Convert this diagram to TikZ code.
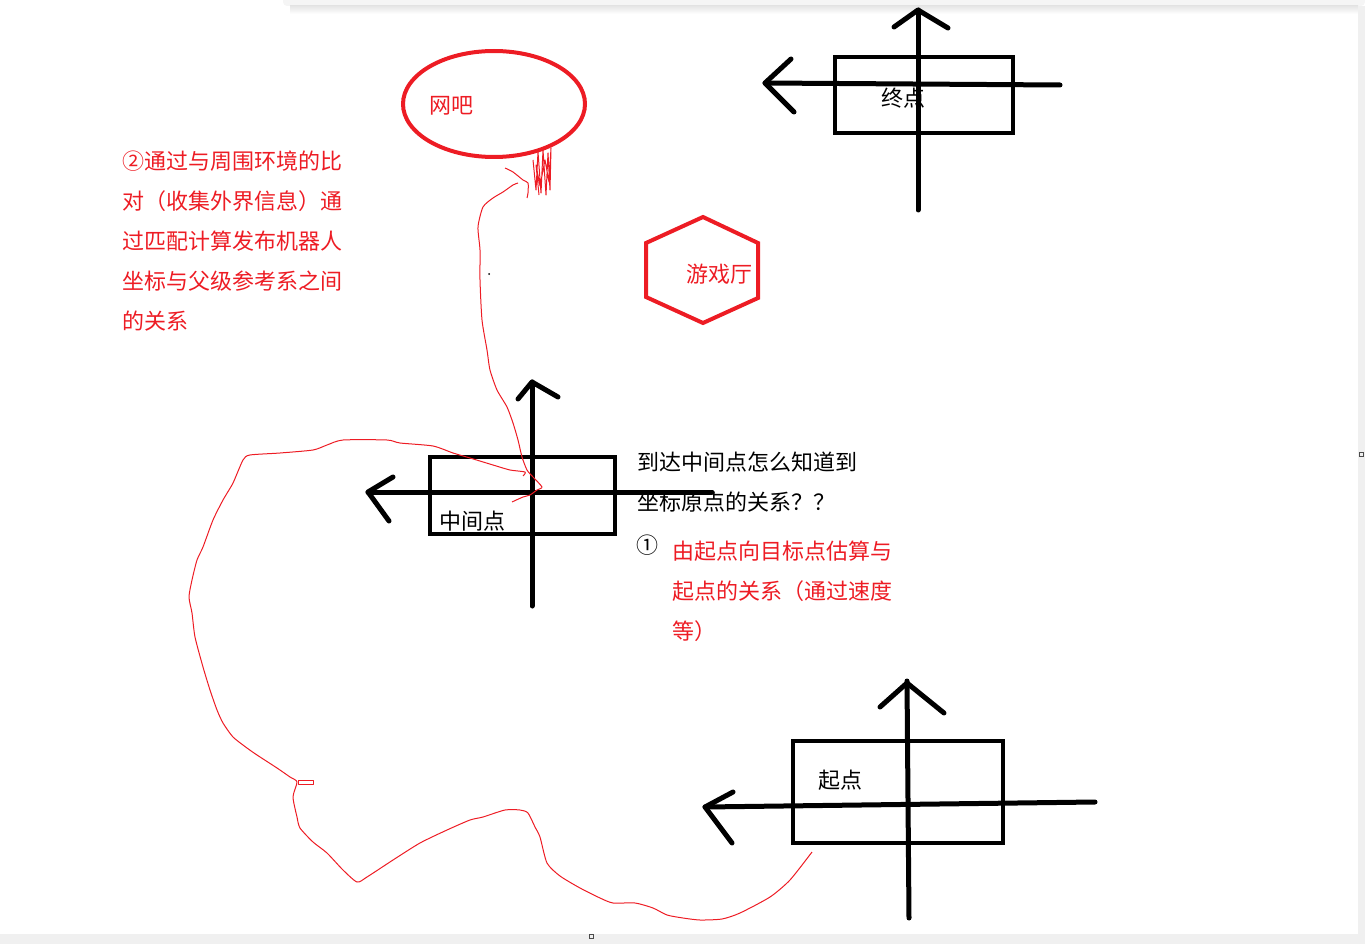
\documentclass[tikz,border=0pt]{standalone}
\usepackage{fontspec}
\newfontfamily\cn{Noto Sans CJK SC}
\usetikzlibrary{positioning,shapes.geometric}
\definecolor{pen}{RGB}{237,28,36}
\tikzstyle{frame}=[draw,line width=4pt,inner sep=0pt]
\tikzstyle{axis}=[draw,line width=5pt,line cap=round,line join=round]
\tikzstyle{ink}=[draw=pen,line width=1pt,line join=round]
\tikzstyle{txt}=[font=\cn\fontsize{22}{40}\selectfont,inner sep=0pt]
\tikzstyle{rtxt}=[txt,text=pen]

\begin{document}
\begin{tikzpicture}[x=1pt,y=-1pt]
    \useasboundingbox (0,0) rectangle (1365,944);
    % window edges
    \fill[black!4,rounded corners=4pt] (283,-6) rectangle (1365,6);
    \shade[top color=black!10,bottom color=white] (290,6) rectangle (1358,14);
    \fill[black!6] (1358,6) rectangle (1365,944);
    \fill[black!6] (0,934) rectangle (1365,944);
    \draw[black!70,line width=1pt] (1359,452) rectangle (1363,456);
    \draw[black!70,line width=1pt] (589,934) rectangle (593,938);

    % frames
    \node[frame,minimum width=178pt,minimum height=76pt] (goal) at (924,95) {};
    \node[frame,minimum width=185pt,minimum height=77pt] (mid) at (522,495) {};
    \node[frame,minimum width=210pt,minimum height=102pt] (start) at (898,792) {};
    \node[txt] (goaltxt) at (903,98) {终点};
    \node[txt] (midtxt) at (472,521) {中间点};
    \node[txt] (starttxt) at (840,780) {起点};

    % axes of goal
    \draw[axis] (918,210) -- (918,10);
    \draw[axis] (894,27) -- (918,10) -- (948,28);
    \draw[axis] (1060,85) -- (765,83);
    \draw[axis] (791,59) -- (765,83) -- (794,112);
    % axes of mid
    \draw[axis] (532,606) -- (532,382);
    \draw[axis] (518,399) -- (532,382) -- (558,397);
    \draw[axis] (712,492) -- (368,492);
    \draw[axis] (393,477) -- (368,492) -- (389,521);
    % axes of start
    \draw[axis] (909,918) -- (907,681);
    \draw[axis] (880,707) -- (907,683) -- (944,713);
    \draw[axis] (1095,802) -- (705,807);
    \draw[axis] (733,792) -- (705,807) -- (732,843);

    % places
    \node[ellipse,draw=pen,line width=4pt,minimum width=182pt,minimum height=106pt] (bar) at (494,104) {};
    \node[rtxt] (bartxt) at (451,106) {网吧};
    \draw[pen,line width=4pt] (703,217) coordinate (hall) -- (758,243) -- (758,298) -- (703,323) -- (646,297) -- (646,243) -- cycle;
    \node[rtxt] (halltxt) at (719,274) {游戏厅};

    % notes
    \node[rtxt,align=left,anchor=north west] (note2) at (122,151)
        {②通过与周围环境的比\\对（收集外界信息）通\\过匹配计算发布机器人\\坐标与父级参考系之间\\的关系};
    \node[txt,align=left,anchor=north west] (ask) at (637,452)
        {到达中间点怎么知道到\\坐标原点的关系？？};
    \node[txt] (one) at (647,545) {①};
    \node[rtxt,align=left,anchor=north west] (note1) at (672,541)
        {由起点向目标点估算与\\起点的关系（通过速度\\等）};

    % route
    \coordinate (tail) at (812,852);
    \coordinate (hook) at (523,476);
    \coordinate (top) at (518,183);
    \draw[ink] plot[smooth,tension=0.4] coordinates {(tail) (790,880) (770,897) (740,913)
        (722,919) (700,920) (683,918) (667,915) (653,908) (635,903) (613,903) (600,898)
        (580,888) (560,876) (547,863) (540,837) (535,827) (528,813) (520,810) (505,810)
        (483,817) (470,820) (447,830) (420,843) (393,860) (367,877) (357,882) (343,870)
        (327,853) (313,842) (300,828) (297,817) (293,797) (297,782) (290,777) (277,768)
        (257,755) (247,748) (233,737) (223,723) (217,710) (210,690) (203,667) (195,637)
        (192,613) (189,597) (192,580) (197,560) (203,547) (213,520) (223,500) (233,483)
        (243,460) (250,455) (280,453) (313,450) (327,445) (343,440) (387,440) (400,443)
        (433,446) (453,453) (470,458) (493,465) (510,470) (525,472) (hook)};
    \draw[ink] (298,780) rectangle (313,784);
    \draw[ink] plot[smooth,tension=0.4] coordinates {(512,502) (523,497) (530,495) (537,490)
        (542,487) (533,477) (527,470) (522,457) (518,440) (513,423) (507,407) (497,390)
        (490,370) (487,350) (482,320) (480,280) (480,250) (478,227) (483,207) (493,198)
        (503,192) (513,185) (top)};
    \draw[ink] plot[smooth,tension=0.4] coordinates {(505,168) (513,172) (523,180) (528,183)
        (528,193) (527,198)};
    \draw[ink] (533,160) -- (536,190) -- (538,152) -- (541,193) -- (543,150) -- (546,195)
        -- (548,153) -- (550,190) -- (551,148) -- (549,182) -- (545,160) -- (540,186)
        -- (536,165) -- (539,195);
    \fill (489,274) circle (1pt);
\end{tikzpicture}
\end{document}
